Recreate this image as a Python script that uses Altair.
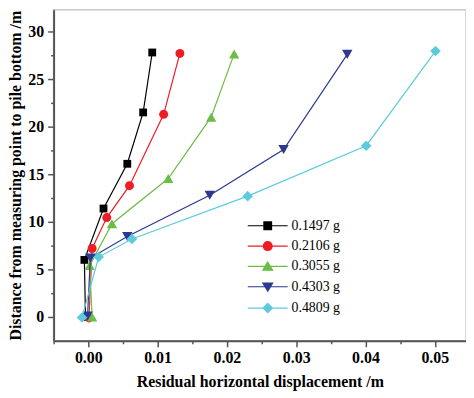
import altair as alt
import pandas as pd

# ---------------- data ----------------
series_labels = ["0.1497 g", "0.2106 g", "0.3055 g", "0.4303 g", "0.4809 g"]
series_colors = ["#000000", "#ee1c24", "#6cbd45", "#2b3990", "#5ecbdc"]
series_shapes = ["square", "circle", "triangle-up", "triangle-down", "diamond"]
series_sizes = [62, 82, 110, 110, 115]

disp_1497 = [-0.0004, -0.00056, 0.0022, 0.00563, 0.00792, 0.00923]
depth_1497 = [0.0, 6.0, 11.4, 16.1, 21.5, 27.8]

disp_2106 = [0.0001, 0.00056, 0.00267, 0.00595, 0.01088, 0.01322]
depth_2106 = [-0.1, 7.2, 10.45, 13.8, 21.3, 27.7]

disp_3055 = [0.00056, 0.0002, 0.00342, 0.01154, 0.01773, 0.02105]
depth_3055 = [0.0, 5.4, 9.8, 14.55, 21.0, 27.65]

disp_4303 = [-0.0001, 0.0003, 0.00563, 0.01753, 0.02818, 0.03737]
depth_4303 = [0.1, 6.2, 8.45, 12.8, 17.6, 27.6]

disp_4809 = [-0.0009, 0.0015, 0.0063, 0.023, 0.0401, 0.0501]
depth_4809 = [-0.05, 6.3, 8.2, 12.7, 18.0, 27.95]

x_ticks = [-0.005, 0.0, 0.005, 0.01, 0.015, 0.02, 0.025, 0.03, 0.035, 0.04, 0.045, 0.05]
y_ticks = [0, 2.5, 5, 7.5, 10, 12.5, 15, 17.5, 20, 22.5, 25, 27.5, 30]

# ---------------- table ----------------
all_disp = [disp_1497, disp_2106, disp_3055, disp_4303, disp_4809]
all_depth = [depth_1497, depth_2106, depth_3055, depth_4303, depth_4809]
rows = []
for lab, xs, ys in zip(series_labels, all_disp, all_depth):
    for i, (xv, yv) in enumerate(zip(xs, ys)):
        rows.append({"series": lab, "disp": xv, "depth": yv, "idx": i})
df = pd.DataFrame(rows)

FONT = "Liberation Serif"
AX = "#555555"

# legend symbols: marker with a line through it
legend_paths = [
    "M-4.5,0H4.5M-0.86,-0.86H0.86V0.86H-0.86Z",
    "M-4.5,0H4.5M1,0A1,1 0 1 1 -1,0A1,1 0 1 1 1,0Z",
    "M-4.5,0H4.5M0,-1L1.1,0.85H-1.1Z",
    "M-4.5,0H4.5M0,1L1.1,-0.85H-1.1Z",
    "M-4.5,0H4.5M0,-1.05L1.05,0L0,1.05L-1.05,0Z",
]

x_major = "abs(datum.value*100 - round(datum.value*100)) < 0.000001"
y_major = "datum.value % 5 == 0"

x_enc = alt.X(
    "disp:Q",
    scale=alt.Scale(domain=[-0.005, 0.0545], nice=False, zero=False),
    axis=alt.Axis(
        title="Residual horizontal displacement /m",
        values=x_ticks,
        labelExpr=f"({x_major}) ? format(datum.value, '.2f') : ''",
        tickSize={"condition": {"test": x_major, "value": 6}, "value": 3},
        labelOverlap=False,
        labelFlush=False,
        labelPadding=3,
        titlePadding=8,
    ),
)
y_enc = alt.Y(
    "depth:Q",
    scale=alt.Scale(domain=[-2.5, 32.3], nice=False, zero=False),
    axis=alt.Axis(
        title="Distance from measuring point to pile bottom /m",
        values=y_ticks,
        labelExpr=f"({y_major}) ? datum.label : ''",
        tickSize={"condition": {"test": y_major, "value": 6}, "value": 3},
        labelOverlap=False,
        labelFlush=False,
        labelPadding=4,
        titlePadding=4,
    ),
)

base = alt.Chart(df)

layers = []
for lab, col, shp, sz in zip(series_labels, series_colors, series_shapes, series_sizes):
    sub = base.transform_filter(alt.datum.series == lab)
    layers.append(
        sub.mark_line(strokeWidth=1.2, color=col).encode(
            x=x_enc, y=y_enc, order=alt.Order("idx:Q")
        )
    )
    layers.append(
        sub.mark_point(filled=True, size=sz, opacity=1, shape=shp, color=col).encode(
            x=x_enc, y=y_enc
        )
    )

leg = alt.Legend(
    title=None,
    orient="none",
    legendX=209,
    legendY=211,
    labelFont=FONT,
    labelFontSize=14,
    labelColor="#000000",
    labelOffset=17,
    rowPadding=6.5,
    padding=0,
    symbolSize=80,
    symbolStrokeWidth=1.2,
    symbolOpacity=1,
)

legend_layer = (
    base.transform_filter("false")
    .mark_point(filled=True, size=80)
    .encode(
        x=x_enc,
        y=y_enc,
        shape=alt.Shape("series:N", scale=alt.Scale(domain=series_labels, range=legend_paths), legend=leg),
        fill=alt.Fill("series:N", scale=alt.Scale(domain=series_labels, range=series_colors), legend=leg),
        stroke=alt.Stroke("series:N", scale=alt.Scale(domain=series_labels, range=series_colors), legend=leg),
    )
)

chart = (
    alt.layer(*layers, legend_layer)
    .properties(width=416, height=334, padding=0)
    .configure_view(stroke="#c8c8c8", strokeWidth=1.5)
    .configure_axis(
        grid=False,
        domainColor=AX,
        domainWidth=2,
        tickColor=AX,
        tickWidth=1.5,
        labelFont=FONT,
        labelFontSize=16,
        labelFontWeight="bold",
        labelColor="#000000",
        titleFont=FONT,
        titleFontSize=16,
        titleFontWeight="bold",
        titleColor="#000000",
    )
)

chart.save("out.html", embed_options={"renderer": "svg", "actions": False})
